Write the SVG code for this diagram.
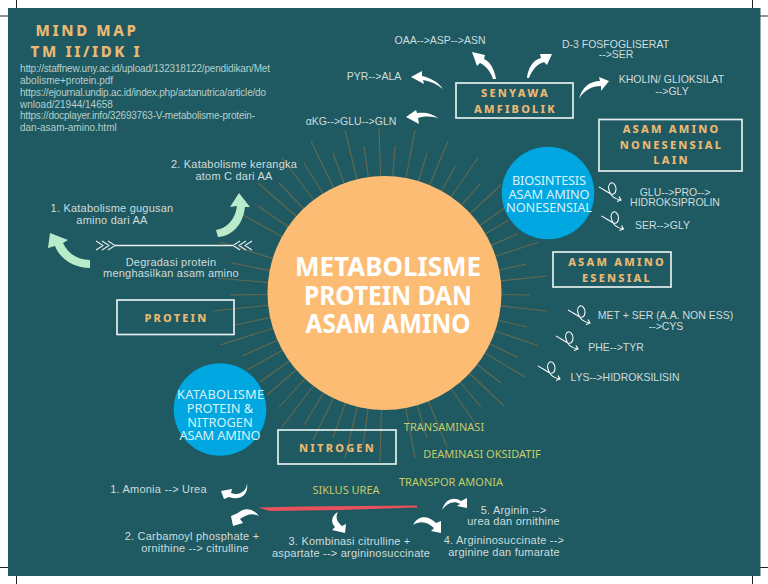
<svg xmlns="http://www.w3.org/2000/svg" width="768" height="584" viewBox="0 0 768 584">
<style>
text{font-family:"Liberation Sans",Arial,sans-serif;font-size:11px;fill:#cfdddd;text-anchor:middle}
.s{letter-spacing:.22px}
.u{font-size:10.500px}
.h{font-family:"Noto Sans","Open Sans",sans-serif;font-weight:800;fill:#e9b873;font-size:11px;letter-spacing:2.200px}
.t{font-size:15px;letter-spacing:2.600px}
.l{font-size:10px;fill:#b5d0cd;text-anchor:start}
.c{font-family:"Noto Sans","Open Sans",sans-serif;font-size:12.800px;fill:#d8f2fa}
.m{font-family:"Noto Sans","Open Sans",sans-serif;font-weight:700;font-size:27px;fill:#fff}
.y{font-family:"Noto Sans","Open Sans",sans-serif;font-size:11px;fill:#c6cc68}
.box{fill:none;stroke:#e4eeee;stroke-width:1.700}
.ray{fill:none;stroke:#66694f;stroke-width:1.100}
.w{fill:#fff}.g{fill:#b7ebc9}
.curl{fill:none;stroke:#fff;stroke-width:1.100}
.crop{fill:none;stroke:#222;stroke-width:1}
</style>
<defs>
<g id="curl"><path class="curl" d="M0 0C4 2 8 5 12 7C15 8 17 6 17 2C17-2 14-5 12-4C10-3 9 0 10 3C11 8 15 12 22 13M20 9.500L22 13L18 14.500"/></g>
</defs>
<rect width="768" height="584" fill="#fff"/>
<path class="crop" d="M16.500 0V8M0 16H8M752.500 0V8M760 16H768M0 567.500H8M16.500 576V584M760 567.500H768M752.500 576V584"/>
<rect x="8" y="8" width="752.500" height="568" fill="#1f5961"/>
<g id="rays"><path class="ray" d="M384.500 293L311 141M384.500 293L345 130M384.500 293L333 153M384.500 293L364 146M384.500 293L379 128M384.500 293L282 158M384.500 293L304 163M384.500 293L258 183M384.500 293L279 183M384.500 293L258 206M384.500 293L243 215M384.500 293L220 242M384.500 293L232 263M384.500 293L217 278M384.500 293L230 295M384.500 293L213 311M384.500 293L235 325M384.500 293L220 345M384.500 293L242 356M384.500 293L247 370M384.500 293L260 382M384.500 293L267 395M384.500 293L279 407M384.500 293L282 427M384.500 293L304 425M384.500 293L313 440M384.500 293L333 438M384.500 293L345 458M384.500 293L363 445M384.500 293L380 462M384.500 293L415 458M384.500 293L427 438M384.500 293L447 447M384.500 293L475 423M384.500 293L504 406M384.500 293L481 407M384.500 293L501 383M384.500 293L525 377M384.500 293L517 357M384.500 293L539 346M384.500 293L527 327M384.500 293L547 311M384.500 293L530 295M384.500 293L547 276M384.500 293L527 264M384.500 293L539 242M384.500 293L517 234M384.500 293L509 220M384.500 293L506 207M384.500 293L501 185M384.500 293L480 184M384.500 293L478 158M384.500 293L456 165M384.500 293L448 141M384.500 293L427 153M384.500 293L415 130M384.500 293L395 146"/></g>
<g id="center"><circle cx="384.500" cy="293" r="117" fill="#fdbc73"/>
<text class="m" x="388" y="276" textLength="186" lengthAdjust="spacingAndGlyphs">METABOLISME</text>
<text class="m" x="388" y="305" textLength="168" lengthAdjust="spacingAndGlyphs">PROTEIN DAN</text>
<text class="m" x="388" y="333" textLength="165" lengthAdjust="spacingAndGlyphs">ASAM AMINO</text></g>
<g id="title"><text class="h t" x="87" y="36">MIND MAP</text><text class="h t" x="86.500" y="57">TM II/IDK I</text></g>
<g id="links">
<text class="l" x="20" y="72" textLength="250">http://staffnew.uny.ac.id/upload/132318122/pendidikan/Met</text>
<text class="l" x="20" y="84">abolisme+protein.pdf</text>
<text class="l" x="20" y="96" textLength="246">https://ejournal.undip.ac.id/index.php/actanutrica/article/do</text>
<text class="l" x="20" y="108">wnload/21944/14658</text>
<text class="l" x="20" y="119" textLength="235">https://docplayer.info/32693763-V-metabolisme-protein-</text>
<text class="l" x="20" y="131">dan-asam-amino.html</text></g>
<g id="n-protein"><rect class="box" x="117" y="300" width="117" height="34.500"/><text class="h" x="176.500" y="322">PROTEIN</text></g>
<g id="n-nitrogen"><rect class="box" x="278" y="430" width="118" height="34"/><text class="h" x="337.500" y="452">NITROGEN</text></g>
<g id="n-senyawa"><rect class="box" x="456" y="83" width="117" height="35"/><text class="h" x="515.500" y="97">SENYAWA</text><text class="h" x="515.500" y="113">AMFIBOLIK</text></g>
<g id="n-lain"><rect class="box" x="599" y="119.500" width="143" height="51.500"/><text class="h" x="671.500" y="133">ASAM AMINO</text><text class="h" x="671.500" y="149">NONESENSIAL</text><text class="h" x="671.500" y="164">LAIN</text></g>
<g id="n-esensial"><rect class="box" x="553" y="252" width="118" height="35"/><text class="h" x="617" y="266">ASAM AMINO</text><text class="h" x="617" y="282">ESENSIAL</text></g>
<g id="n-biosintesis"><circle cx="548" cy="193" r="46.300" fill="#00a7e0"/><text class="c" x="549" y="185" textLength="74">BIOSINTESIS</text><text class="c" x="549" y="198.500" textLength="81">ASAM AMINO</text><text class="c" x="549" y="212" textLength="86">NONESENSIAL</text></g>
<g id="n-katabolisme"><circle cx="220" cy="409.500" r="46.300" fill="#00a7e0"/><text class="c" x="220.500" y="399" textLength="87">KATABOLISME</text><text class="c" x="220" y="412.500">PROTEIN &amp;</text><text class="c" x="220" y="426.500">NITROGEN</text><text class="c" x="220" y="440" textLength="81">ASAM AMINO</text></g>
<g id="connectors">
<path d="M115 245.500H233" fill="none" stroke="#e6efee" stroke-width="1.500"/>
<path d="M96 241L103 245.500L96 250M102 241L109 245.500L102 250M108 241L115 245.500L108 250M252 241L245 245.500L252 250M246 241L239 245.500L246 250M240 241L233 245.500L240 250" fill="none" stroke="#e6efee" stroke-width="1.100"/>
<path class="g" d="M90 260C78 260 68 254 63 243L68 240L50 233L48 248L55 246C60 259 74 268 90 268Z"/>
<path class="g" d="M216 230C227 228 235 220 237 206L230 207L239 193L250 207L245 207C243 225 232 236 218 237Z"/>
<path class="w" d="M496 79C494 68 490 62 484 59L485 55L472 52L477 66L480 63C486 66 491 72 493 79Z"/>
<path class="w" d="M527 78C528 68 533 60 541 58L540 54L552 54L547 65L544 62C537 64 532 70 529 78Z"/>
<path class="w" d="M579 99C582 87 590 81 600 81L599 77L609 81L601 91L601 86C592 86 584 90 579 99Z"/>
<path class="w" d="M443 89C438 82 431 78 422 76L422 71L411 77L424 84L423 80C430 81 437 84 443 89Z"/>
<path class="w" d="M439 119C432 113 425 112 417 113L416 110L406 117L419 124L418 118C426 116 433 116 439 119Z"/>
<path class="w" d="M247 483C247 491 240 496 231 493L232 489L221 491L224 499L229 497C240 501 249 495 247 483Z"/>
<path class="w" d="M259 516C252 507 243 508 238 513L231 516L233 526L243 523L240 519C247 514 253 513 259 516Z"/>
<path class="w" d="M338 512C332 515 330 522 335 527L332 530L345 533L346 524L342 526C337 522 335 517 338 512Z"/>
<path class="w" d="M413 525C418 515 428 515 436 523L441 521L441 533L431 531L434 528C428 522 420 520 413 525Z"/>
<path class="w" d="M442 510C445 499 454 496 461 501L467 498L467 508L457 506L460 504C454 500 447 503 442 510Z"/>
<path d="M258 507.500L300 506.500L417 505.500L417 507.500L340 510L270 511Z" fill="#e9525c"/>
<use href="#curl" x="599" y="187"/><use href="#curl" x="601.500" y="216"/><use href="#curl" x="568" y="310"/><use href="#curl" x="556" y="336"/><use href="#curl" x="538" y="366"/>
</g>
<g id="labels">
<text class="s" x="234" y="168">2. Katabolisme kerangka</text><text class="s" x="234" y="180">atom C dari AA</text>
<text class="s" x="112" y="212">1. Katabolisme gugusan</text><text class="s" x="112" y="224">amino dari AA</text>
<text class="s" x="171" y="266">Degradasi protein</text><text class="s" x="171" y="277">menghasilkan asam amino</text>
<text class="u" x="440" y="44">OAA--&gt;ASP--&gt;ASN</text><text class="u" x="374" y="80">PYR--&gt;ALA</text><text class="u" x="351" y="125">αKG--&gt;GLU--&gt;GLN</text>
<text class="u" x="615.500" y="48">D-3 FOSFOGLISERAT</text><text class="u" x="616" y="58">--&gt;SER</text>
<text class="u" x="671.500" y="83">KHOLIN/ GLIOKSILAT</text><text class="u" x="672" y="95">--&gt;GLY</text>
<text class="u" x="675" y="196">GLU--&gt;PRO--&gt;</text><text class="u" x="675" y="206">HIDROKSIPROLIN</text><text class="u" x="662.500" y="229">SER--&gt;GLY</text>
<text class="u" x="665.500" y="319">MET + SER (A.A. NON ESS)</text><text class="u" x="666" y="330">--&gt;CYS</text>
<text class="u" x="616" y="351">PHE--&gt;TYR</text><text class="u" x="625" y="381">LYS--&gt;HIDROKSILISIN</text>
<text class="y" x="444" y="431">TRANSAMINASI</text><text class="y" x="482" y="458">DEAMINASI OKSIDATIF</text><text class="y" x="451" y="486">TRANSPOR AMONIA</text><text class="y" x="346" y="494">SIKLUS UREA</text>
<text class="s" x="158.500" y="493">1. Amonia --&gt; Urea</text>
<text class="s" x="192" y="540">2. Carbamoyl phosphate +</text><text class="s" x="195" y="552">ornithine --&gt; citrulline</text>
<text class="s" x="349.500" y="545">3. Kombinasi citrulline +</text><text class="s" x="351" y="557">aspartate --&gt; argininosuccinate</text>
<text class="s" x="513.500" y="514">5. Arginin --&gt;</text><text class="s" x="513.500" y="525">urea dan ornithine</text>
<text class="s" x="504" y="544">4. Argininosuccinate --&gt;</text><text class="s" x="504" y="556">arginine dan fumarate</text>
</g>
</svg>
